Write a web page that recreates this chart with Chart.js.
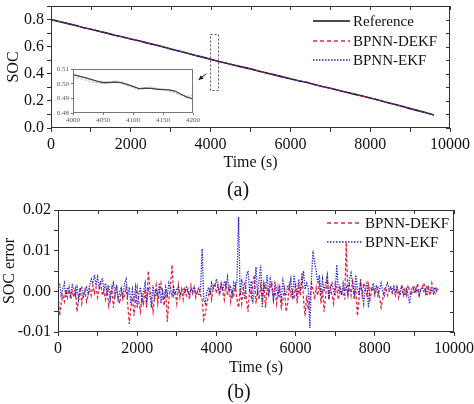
<!DOCTYPE html>
<html><head><meta charset="utf-8">
<script src="https://cdn.jsdelivr.net/npm/chart.js@4"></script>
<style>
html,body{margin:0;padding:0;background:#fff;width:474px;height:404px;overflow:hidden;}
.box{position:absolute;}
.lab{position:absolute;font-family:"Liberation Serif","Times New Roman",serif;font-size:20px;line-height:24px;color:#111;width:60px;text-align:center;}
</style></head><body>
<div class="box" style="left:0;top:0;width:474px;height:176px"><canvas id="c1"></canvas></div>
<div class="box" style="left:40px;top:60px;width:160px;height:66px"><canvas id="c3"></canvas></div>
<div class="box" style="left:0;top:195px;width:474px;height:186px"><canvas id="c2"></canvas></div>
<div class="lab" style="left:208px;top:177px">(a)</div>
<div class="lab" style="left:209px;top:379px">(b)</div>
<script>
// ---------- DATA ----------
const seriesNames = ["Reference", "BPNN-DEKF", "BPNN-EKF"];

const socTime = [0,200,400,600,800,1000,1200,1400,1600,1800,2000,2200,2400,2600,2800,3000,3200,3400,3600,3800,4000,4200,4400,4600,4800,5000,5200,5400,5600,5800,6000,6200,6400,6600,6800,7000,7200,7400,7600,7800,8000,8200,8400,8600,8800,9000,9200,9400,9600];
const socRef = [0.800,0.786,0.772,0.758,0.741,0.729,0.714,0.700,0.684,0.672,
 0.657,0.644,0.628,0.614,0.600,0.583,0.568,0.553,0.537,0.523,
 0.507,0.491,0.478,0.463,0.449,0.436,0.420,0.406,0.392,0.377,
 0.363,0.349,0.337,0.321,0.306,0.293,0.279,0.264,0.250,0.236,
 0.222,0.207,0.190,0.175,0.160,0.143,0.128,0.112,0.096];
const socDEKF = [0.800,0.785,0.773,0.757,0.742,0.728,0.715,0.699,0.685,0.671,
 0.658,0.643,0.629,0.613,0.601,0.582,0.569,0.552,0.538,0.522,
 0.508,0.490,0.479,0.462,0.450,0.435,0.421,0.405,0.393,0.376,
 0.364,0.348,0.338,0.320,0.307,0.292,0.280,0.263,0.251,0.235,
 0.223,0.206,0.191,0.174,0.161,0.142,0.129,0.111,0.097];
const socEKF = [0.801,0.787,0.771,0.759,0.740,0.730,0.713,0.701,0.683,0.673,
 0.656,0.645,0.627,0.615,0.599,0.584,0.567,0.554,0.536,0.524,
 0.506,0.492,0.477,0.464,0.448,0.437,0.419,0.407,0.391,0.378,
 0.362,0.350,0.336,0.322,0.305,0.294,0.278,0.265,0.249,0.237,
 0.221,0.208,0.189,0.176,0.159,0.144,0.127,0.113,0.095];

// inset (zoom 4000-4200 s)
const insetTime = [4000,4010,4020,4030,4040,4050,4060,4070,4080,4090,4100,4110,4120,4130,4140,4150,4160,4170,4180,4190,4200];
const insetRef  = [0.5062,0.5052,0.5042,0.5030,0.5017,0.5008,0.5008,0.5011,0.5007,0.4995,0.4982,0.4966,0.4970,0.4968,0.4962,0.4960,0.4957,0.4950,0.4928,0.4908,0.4896];
const insetDEKF = [0.5045,0.5035,0.5025,0.5010,0.5005,0.4998,0.5010,0.5018,0.5010,0.4985,0.4975,0.4958,0.4965,0.4980,0.4970,0.4962,0.4950,0.4935,0.4920,0.4905,0.4925];
const insetEKF  = [0.5050,0.5042,0.5030,0.5020,0.5008,0.5000,0.5004,0.5022,0.5015,0.4990,0.4978,0.4960,0.4972,0.4975,0.4965,0.4968,0.4955,0.4940,0.4925,0.4915,0.4930];

// SOC error (every 40 s)
const errTime = [
 0,40,80,120,160,200,240,280,320,360,
 400,440,480,520,560,600,640,680,720,760,
 800,840,880,920,960,1000,1040,1080,1120,1160,
 1200,1240,1280,1320,1360,1400,1440,1480,1520,1560,
 1600,1640,1680,1720,1760,1800,1840,1880,1920,1960,
 2000,2040,2080,2120,2160,2200,2240,2280,2320,2360,
 2400,2440,2480,2520,2560,2600,2640,2680,2720,2760,
 2800,2840,2880,2920,2960,3000,3040,3080,3120,3160,
 3200,3240,3280,3320,3360,3400,3440,3480,3520,3560,
 3600,3640,3680,3720,3760,3800,3840,3880,3920,3960,
 4000,4040,4080,4120,4160,4200,4240,4280,4320,4360,
 4400,4440,4480,4520,4560,4600,4640,4680,4720,4760,
 4800,4840,4880,4920,4960,5000,5040,5080,5120,5160,
 5200,5240,5280,5320,5360,5400,5440,5480,5520,5560,
 5600,5640,5680,5720,5760,5800,5840,5880,5920,5960,
 6000,6040,6080,6120,6160,6200,6240,6280,6320,6360,
 6400,6440,6480,6520,6560,6600,6640,6680,6720,6760,
 6800,6840,6880,6920,6960,7000,7040,7080,7120,7160,
 7200,7240,7280,7320,7360,7400,7440,7480,7520,7560,
 7600,7640,7680,7720,7760,7800,7840,7880,7920,7960,
 8000,8040,8080,8120,8160,8200,8240,8280,8320,8360,
 8400,8440,8480,8520,8560,8600,8640,8680,8720,8760,
 8800,8840,8880,8920,8960,9000,9040,9080,9120,9160,
 9200,9240,9280,9320,9360,9400,9440,9480,9520,9560,
 9600];
const errDEKF = [
 0,-0.006,-0.003,-0.001,-0.0025,0.0005,-0.0015,0.001,-0.002,0,
 -0.0015,0.0005,-0.005,-0.002,0.001,-0.003,-0.001,0.0005,-0.0025,-0.001,
 0.0005,-0.001,0.0015,-0.0005,0.001,-0.0015,0.0005,0.002,-0.001,0,
 -0.002,0.0005,-0.0035,-0.001,0.001,-0.004,-0.0005,0.0015,-0.002,-0.003,
 0.0005,-0.002,-0.001,0.001,-0.003,-0.008,-0.004,-0.0015,-0.006,-0.002,
 0.001,-0.0025,-0.005,-0.001,-0.003,0.0005,-0.004,0.005,0.001,-0.002,
 -0.005,-0.001,0.0015,-0.003,0,0.002,-0.001,-0.0035,0.0005,-0.0075,
 -0.002,0.001,0.0065,-0.001,0,-0.003,0.0015,-0.0015,0.0005,-0.002,
 0.001,-0.001,0.0005,-0.002,0.0015,-0.0005,0.001,-0.0015,0,0.001,
 -0.001,-0.002,-0.007,-0.0055,-0.003,-0.001,0.0005,-0.002,0.001,0.002,
 -0.0005,0.0015,-0.001,0.002,0,-0.002,0.0025,-0.001,0.001,-0.0025,
 0.0005,-0.001,0.0015,-0.002,-0.004,0.0005,-0.003,0.001,0.002,-0.002,
 -0.005,0.0005,-0.0015,0.002,0.004,-0.003,0,-0.002,0.0015,-0.002,
 0.002,-0.004,0.0005,-0.001,0.001,0.002,-0.002,0.0005,-0.003,0.001,
 -0.001,-0.004,-0.002,0.0005,-0.005,-0.003,0.0015,-0.001,0,-0.002,
 0.002,-0.003,0.001,-0.001,0.0045,-0.002,-0.006,-0.001,-0.0045,-0.002,
 0.002,0.0005,-0.002,0.001,-0.001,0.0025,-0.003,0.0005,-0.005,-0.001,
 0.004,-0.002,0.001,-0.001,-0.003,0.002,0.0005,-0.002,0.001,-0.001,
 0.0005,-0.002,0.012,-0.001,0.0015,-0.001,0.003,-0.002,0.001,-0.006,
 -0.002,0.003,-0.001,0.002,0.0005,-0.001,0.0015,-0.002,0,0.001,
 -0.001,0.0005,0.001,-0.0015,-0.004,-0.002,0.0005,0.001,-0.001,0,
 0.001,-0.0005,0.0005,-0.001,0.001,-0.0015,0.0005,0.001,-0.001,0.0005,
 -0.001,0.0015,0,-0.001,0.0005,0.001,-0.0005,0.002,-0.001,0.0005,
 0.001,0.002,-0.0005,0.0015,0,-0.001,0.002,0.0005,-0.0005,0.001,
 0.0005];
const errEKF = [
 0.001,0.002,-0.001,0.0005,0.002,-0.0015,0.001,0,-0.001,0.0015,
 0.0005,-0.001,0.001,-0.002,0.0005,0.001,-0.0015,0,0.001,-0.0005,
 0.0015,0.003,0.002,0.004,0.0015,0.0035,0.001,0.0025,0.003,0.0005,
 0.002,-0.001,0.0015,-0.002,0.0005,0.002,-0.001,0.001,-0.002,0,
 0.001,-0.0015,0.002,0.003,-0.001,0.001,-0.003,0.0005,-0.002,0.001,
 -0.004,-0.001,0.001,-0.0025,0,0.002,-0.003,0.001,-0.001,-0.004,
 0.0015,-0.002,0.0005,-0.001,0.002,-0.003,0,-0.002,0.001,-0.001,
 0.002,0.0005,-0.001,0.001,-0.0005,0.0005,0.001,-0.001,0,0.0005,
 -0.0005,0.001,0,-0.001,0.0005,0,0.001,-0.0005,0,-0.001,
 0.0005,0.0105,-0.002,-0.003,0,0.001,-0.001,0.002,0.0005,0.0015,
 0.003,0.001,-0.0005,0.002,0,0.0025,0.001,0.0035,0,0.001,
 -0.001,0.002,0.0005,0.003,0.0183,-0.001,0.003,0.001,-0.002,0.004,
 0.005,0,0.0025,-0.003,0.001,0.006,-0.001,0.003,0.0065,-0.004,
 0.002,0.0005,0.004,-0.001,0.003,0.001,-0.002,0.002,0.0005,-0.001,
 0.001,-0.002,0.0025,0,-0.001,0.0015,0.0005,0.003,-0.002,0.004,
 0.001,-0.001,0.003,0,0.002,0.005,0.0005,0.002,0.001,-0.009,
 0.003,0.010,0.007,0.005,0.002,0.004,-0.001,0.003,0,0.002,
 0.004,-0.002,0.001,0.002,0,-0.001,0.0065,0,0.001,-0.001,
 0.002,0,0.001,-0.001,0.003,0.0045,0.002,-0.001,0.004,0.001,
 -0.001,0.002,0,-0.003,0.001,0.002,-0.004,0.001,0.0005,0.002,
 0,0.0015,-0.001,0.0005,0.002,0,-0.001,0.001,0.002,0.0005,
 0.001,0,0.0015,-0.0005,0.001,0,-0.001,0.0015,0.0005,-0.001,
 0.0005,-0.001,-0.003,0.0005,0.001,-0.0005,0.001,0,-0.001,0.0005,
 0.001,0,0.0005,-0.001,0.001,0,0.0005,-0.0005,0.001,0,
 0.0005];

const zoomBox = {t0: 3992, t1: 4200, s0: 0.281, s1: 0.694};
const arrowPts = {from: [3892, 0.400], to: [3700, 0.356]};

// ---------- STYLE / HELPERS ----------
const SERIF = '"Liberation Serif","Times New Roman",serif';
Chart.defaults.font.family = SERIF;
Chart.defaults.font.weight = 'normal';
Chart.defaults.color = '#111';
const AX = '#333';
const C_REF = '#111111', C_DEKF = '#e0283c', C_EKF = '#2626cc';

const zip = (xs, ys) => xs.map((x, i) => ({x, y: ys[i]}));

function fixFit(size, isX) {
  return function (scale) {
    if (isX) scale.height = size; else scale.width = size;
    scale.paddingLeft = 0; scale.paddingRight = 0; scale.paddingTop = 0; scale.paddingBottom = 0;
  };
}

const framePlugin = {
  id: 'frame',
  afterDatasetsDraw(chart, args, opts) {
    const {ctx, chartArea: a, scales} = chart;
    ctx.save();
    ctx.strokeStyle = opts.color || AX; ctx.lineWidth = 1; ctx.setLineDash([]);
    ctx.strokeRect(Math.round(a.left) + 0.5, Math.round(a.top) + 0.5,
                   Math.round(a.right - a.left) - 1, Math.round(a.bottom - a.top) - 1);
    if (opts.mirror) {
      const L = opts.tick || 4;
      ctx.beginPath();
      scales.x.ticks.forEach(t => {
        const px = Math.round(scales.x.getPixelForValue(t.value)) + 0.5;
        ctx.moveTo(px, a.top); ctx.lineTo(px, a.top + L);
      });
      scales.y.ticks.forEach(t => {
        const py = Math.round(scales.y.getPixelForValue(t.value)) + 0.5;
        ctx.moveTo(a.right, py); ctx.lineTo(a.right - L, py);
      });
      ctx.stroke();
    }
    ctx.restore();
  }
};

const legendPlugin = {
  id: 'mylegend',
  afterDraw(chart, args, opts) {
    if (!opts.items) return;
    const ctx = chart.ctx;
    ctx.save();
    opts.items.forEach(it => {
      const ds = chart.data.datasets[it.ds];
      ctx.strokeStyle = ds.borderColor;
      ctx.lineWidth = it.lw || 1.3;
      ctx.setLineDash(it.dash || ds.borderDash || []);
      ctx.beginPath(); ctx.moveTo(it.x1, it.y); ctx.lineTo(it.x2, it.y); ctx.stroke();
      ctx.setLineDash([]);
      ctx.fillStyle = '#111';
      ctx.font = (opts.size || 15) + 'px ' + SERIF;
      ctx.textBaseline = 'middle'; ctx.textAlign = 'left';
      ctx.fillText(ds.label, it.tx, it.y + 1);
    });
    ctx.restore();
  }
};

const annotPlugin = {
  id: 'annot',
  afterDatasetsDraw(chart, args, opts) {
    if (!opts.on) return;
    const {ctx, scales: {x, y}} = chart;
    ctx.save();
    ctx.strokeStyle = '#555'; ctx.lineWidth = 1; ctx.setLineDash([2, 2]);
    const x0 = x.getPixelForValue(zoomBox.t0), x1 = x.getPixelForValue(zoomBox.t1);
    const y0 = y.getPixelForValue(zoomBox.s1), y1 = y.getPixelForValue(zoomBox.s0);
    ctx.strokeRect(Math.round(x0) + 0.5, Math.round(y0) + 0.5, Math.round(x1 - x0), Math.round(y1 - y0));
    ctx.setLineDash([]);
    const ax0 = x.getPixelForValue(arrowPts.from[0]), ay0 = y.getPixelForValue(arrowPts.from[1]);
    const ax1 = x.getPixelForValue(arrowPts.to[0]), ay1 = y.getPixelForValue(arrowPts.to[1]);
    ctx.strokeStyle = '#111'; ctx.fillStyle = '#111'; ctx.lineWidth = 1;
    ctx.beginPath(); ctx.moveTo(ax0, ay0); ctx.lineTo(ax1, ay1); ctx.stroke();
    const ang = Math.atan2(ay1 - ay0, ax1 - ax0), h = 5;
    ctx.beginPath();
    ctx.moveTo(ax1, ay1);
    ctx.lineTo(ax1 - h * Math.cos(ang - 0.45), ay1 - h * Math.sin(ang - 0.45));
    ctx.lineTo(ax1 - h * Math.cos(ang + 0.45), ay1 - h * Math.sin(ang + 0.45));
    ctx.closePath(); ctx.fill();
    ctx.restore();
  }
};

const tickGrid = (len, color) => ({display: true, drawOnChartArea: false, drawTicks: true, tickLength: len, color: color || AX});
const titleFont = {size: 16, weight: 'normal'};

// ---------- CHART (a) ----------
new Chart(document.getElementById('c1'), {
  type: 'line',
  data: {datasets: [
    {label: seriesNames[0], data: zip(socTime, socRef), borderColor: C_REF, borderWidth: 1.6, pointRadius: 0, tension: 0, order: 3},
    {label: seriesNames[1], data: zip(socTime, socDEKF), borderColor: C_DEKF, borderWidth: 1, borderDash: [4, 3], pointRadius: 0, tension: 0, order: 2},
    {label: seriesNames[2], data: zip(socTime, socEKF), borderColor: C_EKF, borderWidth: 1, borderDash: [1.5, 1.5], pointRadius: 0, tension: 0, order: 1}
  ]},
  options: {
    responsive: true, maintainAspectRatio: false, animation: false, devicePixelRatio: 1,
    layout: {padding: {left: 0, right: 24, top: 6, bottom: 0}},
    plugins: {
      legend: {display: false}, tooltip: {enabled: false},
      frame: {mirror: true, tick: 4},
      annot: {on: true},
      mylegend: {size: 15, items: [
        {ds: 0, x1: 313, x2: 350, y: 21, tx: 353, lw: 1.6},
        {ds: 1, x1: 313, x2: 350, y: 41, tx: 353, lw: 1.3, dash: [4, 3]},
        {ds: 2, x1: 313, x2: 350, y: 60, tx: 353, lw: 1.3, dash: [1.5, 1.5]}
      ]}
    },
    scales: {
      x: {type: 'linear', min: 0, max: 10000,
          ticks: {stepSize: 1000, autoSkip: false, maxRotation: 0, padding: 3, font: {size: 16}, color: '#111',
                  callback: v => (Math.round(v) % 2000 === 0 ? String(Math.round(v)) : '')},
          grid: tickGrid(4), border: {display: false},
          title: {display: true, text: 'Time (s)', font: titleFont, color: '#111', padding: {top: 0, bottom: 4}},
          afterFit: fixFit(48, true)},
      y: {type: 'linear', min: 0, max: 0.9,
          ticks: {stepSize: 0.1, autoSkip: false, padding: 3, font: {size: 16}, color: '#111',
                  callback: v => (Math.round(v * 10) % 2 === 0 ? (Math.round(v * 10) / 10).toFixed(1) : '')},
          grid: tickGrid(4), border: {display: false},
          title: {display: true, text: 'SOC', font: titleFont, color: '#111', padding: {top: 4, bottom: 0}},
          afterFit: fixFit(51, false)}
    }
  },
  plugins: [framePlugin, legendPlugin, annotPlugin]
});

// ---------- INSET ----------
new Chart(document.getElementById('c3'), {
  type: 'line',
  data: {datasets: [
    {label: seriesNames[0], data: zip(insetTime, insetRef), borderColor: '#444', borderWidth: 1.3, pointRadius: 0, tension: 0, order: 1},
    {label: seriesNames[1], data: zip(insetTime, insetDEKF), borderColor: '#b8b8b8', borderWidth: 0.9, borderDash: [2, 2], pointRadius: 0, tension: 0, order: 2},
    {label: seriesNames[2], data: zip(insetTime, insetEKF), borderColor: '#c4c4c4', borderWidth: 0.9, borderDash: [1, 1.5], pointRadius: 0, tension: 0, order: 3}
  ]},
  options: {
    responsive: true, maintainAspectRatio: false, animation: false, devicePixelRatio: 1,
    layout: {padding: {left: 0, right: 7, top: 9, bottom: 0}},
    plugins: {legend: {display: false}, tooltip: {enabled: false}, frame: {color: '#777'}},
    scales: {
      x: {type: 'linear', min: 4000, max: 4200,
          ticks: {stepSize: 50, autoSkip: false, maxRotation: 0, padding: 1, font: {size: 7}, color: '#555',
                  callback: v => String(Math.round(v))},
          grid: tickGrid(2, '#777'), border: {display: false},
          afterFit: fixFit(13, true)},
      y: {type: 'linear', min: 0.48, max: 0.51,
          ticks: {stepSize: 0.01, autoSkip: false, padding: 2, font: {size: 7}, color: '#555',
                  callback: v => v.toFixed(2)},
          grid: tickGrid(2, '#777'), border: {display: false},
          afterFit: fixFit(33, false)}
    }
  },
  plugins: [framePlugin]
});

// ---------- CHART (b) ----------
new Chart(document.getElementById('c2'), {
  type: 'line',
  data: {datasets: [
    {label: seriesNames[1], data: zip(errTime, errDEKF), borderColor: C_DEKF, borderWidth: 1.3, borderDash: [3, 2], pointRadius: 0, tension: 0, order: 2},
    {label: seriesNames[2], data: zip(errTime, errEKF), borderColor: C_EKF, borderWidth: 1.3, borderDash: [1.3, 1.3], pointRadius: 0, tension: 0, order: 1}
  ]},
  options: {
    responsive: true, maintainAspectRatio: false, animation: false, devicePixelRatio: 1,
    layout: {padding: {left: 0, right: 20, top: 15, bottom: 0}},
    plugins: {
      legend: {display: false}, tooltip: {enabled: false},
      frame: {mirror: true, tick: 4},
      mylegend: {size: 15, items: [
        {ds: 0, x1: 327, x2: 362, y: 28, tx: 365, lw: 1.3, dash: [4, 3]},
        {ds: 1, x1: 327, x2: 362, y: 47, tx: 365, lw: 1.3, dash: [1.5, 1.5]}
      ]}
    },
    scales: {
      x: {type: 'linear', min: 0, max: 10000,
          ticks: {stepSize: 1000, autoSkip: false, maxRotation: 0, padding: 3, font: {size: 16}, color: '#111',
                  callback: v => (Math.round(v) % 2000 === 0 ? String(Math.round(v)) : '')},
          grid: tickGrid(4), border: {display: false},
          title: {display: true, text: 'Time (s)', font: titleFont, color: '#111', padding: {top: 0, bottom: 4}},
          afterFit: fixFit(49, true)},
      y: {type: 'linear', min: -0.01, max: 0.02,
          ticks: {stepSize: 0.005, autoSkip: false, padding: 3, font: {size: 16}, color: '#111',
                  callback: v => {
                    const m = Math.round(v * 1000);
                    if (m % 10 !== 0) return '';
                    return m === 0 ? '0.00' : (m / 1000).toFixed(2);
                  }},
          grid: tickGrid(4), border: {display: false},
          title: {display: true, text: 'SOC error', font: titleFont, color: '#111', padding: {top: 0, bottom: 0}},
          afterFit: fixFit(58, false)}
    }
  },
  plugins: [framePlugin, legendPlugin]
});
</script>
</body></html>
